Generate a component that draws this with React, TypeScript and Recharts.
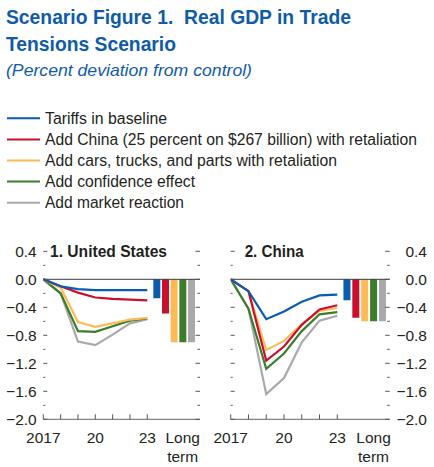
import React from 'react';
import { ComposedChart, Line, Bar, Cell, XAxis, YAxis, ReferenceLine } from 'recharts';

const seriesNames = [
  'Tariffs in baseline',
  'Add China (25 percent on $267 billion) with retaliation',
  'Add cars, trucks, and parts with retaliation',
  'Add confidence effect',
  'Add market reaction',
];
const seriesColors = ['#0a5cae', '#c8102e', '#fdbb57', '#3b7d2b', '#a9a9ab'];
const legendTextWidths = [122, 372, 292, 150, 139];

const years = [2017, 2018, 2019, 2020, 2021, 2022, 2023];
const yearLabels: Record<number, string> = { 2017: '2017', 2020: '20', 2023: '23' };
const longTermLabel = ['Long', 'term'];
const longTermLabelAt = 2025.04;
const longTermSlots = [2023.54, 2024.04, 2024.54, 2025.04, 2025.54];

const yTicks = [-2, -1.8, -1.6, -1.4, -1.2, -1, -0.8, -0.6, -0.4, -0.2, 0, 0.2, 0.4];

// United States
const usBaseline = [0, -0.1, -0.14, -0.155, -0.155, -0.155, -0.155];
const usChina = [0, -0.1, -0.19, -0.26, -0.28, -0.29, -0.3];
const usCars = [0, -0.12, -0.61, -0.68, -0.63, -0.575, -0.55];
const usConfidence = [0, -0.2, -0.74, -0.75, -0.67, -0.59, -0.56];
const usMarket = [0, -0.2, -0.89, -0.94, -0.79, -0.63, -0.57];
const usLongTerm = [-0.27, -0.49, -0.9, -0.9, -0.9];

// China
const cnBaseline = [0, -0.17, -0.57, -0.46, -0.32, -0.23, -0.22];
const cnChina = [0, -0.17, -1.16, -0.96, -0.65, -0.43, -0.37];
const cnCars = [0, -0.17, -1.01, -0.88, -0.64, -0.45, -0.41];
const cnConfidence = [0, -0.42, -1.28, -1.06, -0.74, -0.5, -0.47];
const cnMarket = [0, -0.42, -1.64, -1.41, -0.9, -0.59, -0.52];
const cnLongTerm = [-0.3, -0.55, -0.6, -0.6, -0.6];

const FONT = '"Liberation Sans", Arial, Helvetica, sans-serif';
const TEXT = '#231f20';
const TITLE_BLUE = '#0f5ba8';
const TICK = '#555';

type Row = { x: number; slot?: number; lt?: number; [k: string]: number | undefined };

function buildData(series: number[][], lt: number[]): Row[] {
  const rows: Row[] = years.map((year, i) => {
    const r: Row = { x: year };
    series.forEach((s, k) => {
      r['s' + k] = s[i];
    });
    return r;
  });
  longTermSlots.forEach((x, i) => rows.push({ x, lt: lt[i], slot: i }));
  return rows;
}

const usData = buildData([usBaseline, usChina, usCars, usConfidence, usMarket], usLongTerm);
const cnData = buildData([cnBaseline, cnChina, cnCars, cnConfidence, cnMarket], cnLongTerm);

const fmt = (v: number) => (Math.abs(v) < 1e-9 ? '0.0' : (v < 0 ? '\u2212' : '') + Math.abs(v).toFixed(1));
const isMajor = (v: number) => Math.round(v * 10) % 4 === 0;

function makeYTick(side: 'left' | 'right', showLabels: boolean, majorLen: number, minorLen: number, labelGap: number) {
  return (props: any) => {
    const { x, y, payload } = props;
    const v = payload.value as number;
    const major = isMajor(v);
    const len = major ? majorLen : minorLen;
    const dir = side === 'left' ? 1 : -1;
    return (
      <g>
        <line x1={x} x2={x + dir * len} y1={y} y2={y} stroke={TICK} strokeWidth={1} />
        {showLabels && major && (
          <text
            x={side === 'left' ? x - labelGap : x + labelGap}
            y={y + 5.5}
            textAnchor="end"
            fontFamily={FONT}
            fontSize={15.5}
            fill={TEXT}
          >
            {fmt(v)}
          </text>
        )}
      </g>
    );
  };
}

const renderXTick = (props: any) => {
  const { x, y, payload } = props;
  const v = payload.value as number;
  if (v === longTermLabelAt) {
    return (
      <g>
        {longTermLabel.map((t, i) => (
          <text key={t} x={x} y={y + 24 + i * 18.4} textAnchor="middle" fontFamily={FONT} fontSize={15.5} fill={TEXT}>
            {t}
          </text>
        ))}
      </g>
    );
  }
  return (
    <g>
      <line x1={x} x2={x} y1={y} y2={y - 5} stroke={TICK} strokeWidth={1} />
      {yearLabels[v] && (
        <text x={x} y={y + 24} textAnchor="middle" fontFamily={FONT} fontSize={15.5} fill={TEXT}>
          {yearLabels[v]}
        </text>
      )}
    </g>
  );
};

type PanelProps = {
  data: Row[];
  width: number;
  xMax: number;
  leftW: number;
  rightW: number;
  labelsOn: 'left' | 'right';
};

function Panel({ data, width, xMax, leftW, rightW, labelsOn }: PanelProps) {
  const order = [4, 3, 2, 1, 0];
  return (
    <ComposedChart width={width} height={237} data={data} margin={{ top: 21.3, right: 0, bottom: 0, left: 0 }}>
      <XAxis
        dataKey="x"
        type="number"
        domain={[2017, xMax]}
        allowDataOverflow
        ticks={[...years, longTermLabelAt]}
        interval={0}
        tickSize={0}
        tickMargin={0}
        tickLine={false}
        axisLine={{ stroke: '#666', strokeWidth: 1 }}
        height={47.7}
        tick={renderXTick}
      />
      <YAxis
        yAxisId="left"
        type="number"
        domain={[-2, 0.4]}
        allowDataOverflow
        ticks={yTicks}
        interval={0}
        width={leftW}
        axisLine={false}
        tickLine={false}
        tickSize={0}
        tickMargin={0}
        tick={makeYTick('left', labelsOn === 'left', 4, 2, 6.6)}
      />
      <YAxis
        yAxisId="right"
        orientation="right"
        type="number"
        domain={[-2, 0.4]}
        allowDataOverflow
        ticks={yTicks}
        interval={0}
        width={rightW}
        axisLine={false}
        tickLine={false}
        tickSize={0}
        tickMargin={0}
        tick={makeYTick('right', labelsOn === 'right', 4.5, 2.5, 37.3)}
      />
      <ReferenceLine yAxisId="left" y={0} stroke="#3c3c3c" strokeWidth={1} />
      <Bar dataKey="lt" yAxisId="left" barSize={7} isAnimationActive={false}>
        {data.map((r, i) => (
          <Cell key={i} fill={r.slot !== undefined ? seriesColors[r.slot] : 'none'} />
        ))}
      </Bar>
      {order.map((k) => (
        <Line
          key={k}
          yAxisId="left"
          dataKey={'s' + k}
          type="linear"
          stroke={seriesColors[k]}
          strokeWidth={2.2}
          dot={false}
          activeDot={false}
          isAnimationActive={false}
        />
      ))}
    </ComposedChart>
  );
}

export default function App() {
  return (
    <div style={{ position: 'absolute', left: 0, top: 0, width: 434, height: 467, background: '#fff', overflow: 'hidden' }}>
      <div style={{ position: 'absolute', left: 0, top: 230 }}>
        <Panel data={usData} width={220} xMax={2026.04} leftW={43.3} rightW={20} labelsOn="left" />
      </div>
      <div style={{ position: 'absolute', left: 200, top: 230 }}>
        <Panel data={cnData} width={234} xMax={2025.95} leftW={30.7} rightW={44.3} labelsOn="right" />
      </div>
      <svg width={434} height={467} style={{ position: 'absolute', left: 0, top: 0, pointerEvents: 'none' }}>
        <text x={6} y={23.5} fontFamily={FONT} fontWeight="bold" fontSize={19.5} fill={TITLE_BLUE} textLength={345} lengthAdjust="spacingAndGlyphs" style={{ whiteSpace: 'pre' }}>
          {'Scenario Figure 1.  Real GDP in Trade'}
        </text>
        <text x={6} y={50.5} fontFamily={FONT} fontWeight="bold" fontSize={19.5} fill={TITLE_BLUE} textLength={170} lengthAdjust="spacingAndGlyphs">
          Tensions Scenario
        </text>
        <text x={6} y={75.5} fontFamily={FONT} fontStyle="italic" fontSize={17} fill={TITLE_BLUE} textLength={246} lengthAdjust="spacingAndGlyphs">
          (Percent deviation from control)
        </text>
        {seriesNames.map((name, i) => {
          const y = 118.3 + i * 21.1;
          return (
            <g key={name}>
              <line x1={7} x2={40} y1={y} y2={y} stroke={seriesColors[i]} strokeWidth={2} />
              <text x={45} y={y + 5.7} fontFamily={FONT} fontSize={16} fill={TEXT} textLength={legendTextWidths[i]} lengthAdjust="spacingAndGlyphs">
                {name}
              </text>
            </g>
          );
        })}
        <text x={50} y={257} fontFamily={FONT} fontWeight="bold" fontSize={16} fill={TEXT} textLength={117} lengthAdjust="spacingAndGlyphs">
          1. United States
        </text>
        <text x={244.7} y={257} fontFamily={FONT} fontWeight="bold" fontSize={16} fill={TEXT} textLength={59} lengthAdjust="spacingAndGlyphs">
          2. China
        </text>
      </svg>
    </div>
  );
}
